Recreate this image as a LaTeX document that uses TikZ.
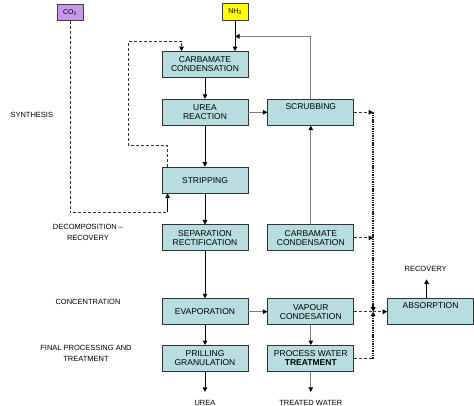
\documentclass[tikz,border=0pt]{standalone}
\usepackage{fontspec}
\setmainfont{Liberation Sans}
\usepackage{tikz}
\usetikzlibrary{arrows.meta, positioning, calc}
\definecolor{boxblue}{RGB}{183,221,225}
\definecolor{gasviolet}{RGB}{200,150,235}
\definecolor{gasyellow}{RGB}{255,255,0}
\tikzset{
  procbox/.style={rectangle, draw=black!80, line width=0.8pt,
                  fill=boxblue, minimum width=86pt, minimum height=26pt,
                  inner sep=2pt, align=center,
                  font=\fontsize{8.5}{9}\selectfont},
  gasbox/.style={rectangle, draw=black!75, line width=0.7pt,
                 minimum width=26pt, minimum height=16pt, inner sep=1pt,
                 font=\fontsize{7}{8}\selectfont},
  stage/.style={align=center, font=\fontsize{7.5}{11}\selectfont},
  outtext/.style={inner sep=1.5pt, font=\fontsize{7.5}{9}\selectfont},
  arr/.style={-{Triangle[length=4.5pt,width=4.5pt]}, line width=1pt, draw=black},
  garr/.style={-{Triangle[length=4.5pt,width=4.5pt,color=black]},
               line width=0.8pt, draw=black!50},
  dashline/.style={line width=0.8pt, draw=black!80, dash pattern=on 3pt off 2pt},
  dasharr/.style={dashline, -{Triangle[length=4.5pt,width=4.5pt,color=black]}},
  dotline/.style={line width=1.5pt, draw=black!90, dash pattern=on 1.4pt off 0.9pt},
  dotarr/.style={dotline, -{Triangle[length=4.5pt,width=4.5pt,color=black]}},
}

\begin{document}
\begin{tikzpicture}[x=1pt, y=-1pt]
  \useasboundingbox (0,0) rectangle (474,406);

  % feed gases
  \node[gasbox, fill=gasviolet] (co2) at (70,12.5) {CO\textsubscript{2}};
  \node[gasbox, fill=gasyellow, minimum height=17pt] (nh3) at (235,11.5) {NH\textsubscript{3}};

  % main urea line
  \node[procbox] (carbL) at (205,64.5) {CARBAMATE\\CONDENSATION};
  \node[procbox, below=21pt of carbL] (urea) {UREA\\REACTION};
  \node[procbox, below=41pt of urea] (strip) {STRIPPING};
  \node[procbox, below=31pt of strip] (sep) {SEPARATION\\RECTIFICATION};
  \node[procbox, below=47pt of sep] (evap) {EVAPORATION};
  \node[procbox, below=20pt of evap] (prill) {PRILLING\\GRANULATION};
  \node[outtext, below=27pt of prill] (ureaout) {UREA};

  % recovery line
  \node[procbox, right=19pt of urea] (scrub) {SCRUBBING\\\strut};
  \node[procbox, right=19pt of sep] (carbR) {CARBAMATE\\CONDENSATION};
  \node[procbox, right=19pt of evap] (vap) {VAPOUR\\CONDESATION};
  \node[procbox, right=19pt of prill] (pwt) {PROCESS WATER\\\textbf{TREATMENT}};
  \node[outtext, below=27pt of pwt] (water) {TREATED WATER};
  \node[procbox, right=33pt of vap] (absorb) {ABSORPTION\\\strut};
  \node[outtext, above=25pt of absorb, xshift=-5pt] (recov) {RECOVERY};

  % stage labels
  \node[stage, anchor=west] (lsyn) at (7,115) {SYNTHESIS};
  \node[stage] (ldec) at (88,232) {DECOMPOSITION --\\RECOVERY};
  \node[stage] (lconc) at (88,302) {CONCENTRATION};
  \node[stage] (lfin) at (86,353) {FINAL PROCESSING AND\\TREATMENT};

  % helper points
  \coordinate (nhjoin) at ([yshift=-16pt]nh3.south);
  \coordinate (co2turn) at ([xshift=6pt,yshift=-19pt]strip.south west);
  \coordinate (colTop) at ([xshift=19pt]scrub.east);
  \coordinate (colCarb) at (carbR.east -| colTop);
  \coordinate (colMid) at (vap.east -| colTop);
  \coordinate (colBot) at (pwt.east -| colTop);
  \coordinate (absTop) at ([xshift=-4pt]absorb.north);

  % main flow
  \draw[arr] (carbL) -- (urea);
  \draw[arr] (urea) -- (strip);
  \draw[arr] (strip) -- (sep);
  \draw[arr] (sep) -- (evap);
  \draw[arr] (evap) -- (prill);
  \draw[arr, shorten >=7pt] (prill) -- (ureaout);

  % feeds
  \draw[arr] (nh3.south) -- (nh3.south |- carbL.north);
  \draw[dashline] (co2.south) |- (co2turn);
  \draw[arr] (co2turn) -- ([xshift=6pt]strip.south west);
  \draw[dasharr] ([xshift=6pt]strip.north west) -- ++(0,-21)
    -| ([xshift=-33pt,yshift=10pt]carbL.north west)
    -| ([xshift=20pt]carbL.north west);

  % recovery flow
  \draw[garr] (urea) -- (scrub);
  \draw[garr] (carbR) -- (scrub);
  \draw[garr] (scrub.north) |- (nhjoin);
  \draw[garr] (evap) -- (vap);
  \draw[garr] (vap) -- (pwt);
  \draw[garr, shorten >=7pt] (pwt) -- (water);
  \draw[arr, shorten >=6pt] (absTop) -- (recov.south -| absTop);

  % collector to absorption
  \draw[dasharr] (scrub.east) -- (colTop);
  \draw[dasharr] (carbR.east) -- (colCarb);
  \draw[dashline] (vap.east) -- (colMid);
  \draw[dashline] (pwt.east) -- (colBot);
  \draw[dotarr] (colTop) -- (colMid);
  \draw[dotarr] (colBot) -- (colMid);
  \draw[dasharr] (colMid) -- (absorb.west);
\end{tikzpicture}
\end{document}
